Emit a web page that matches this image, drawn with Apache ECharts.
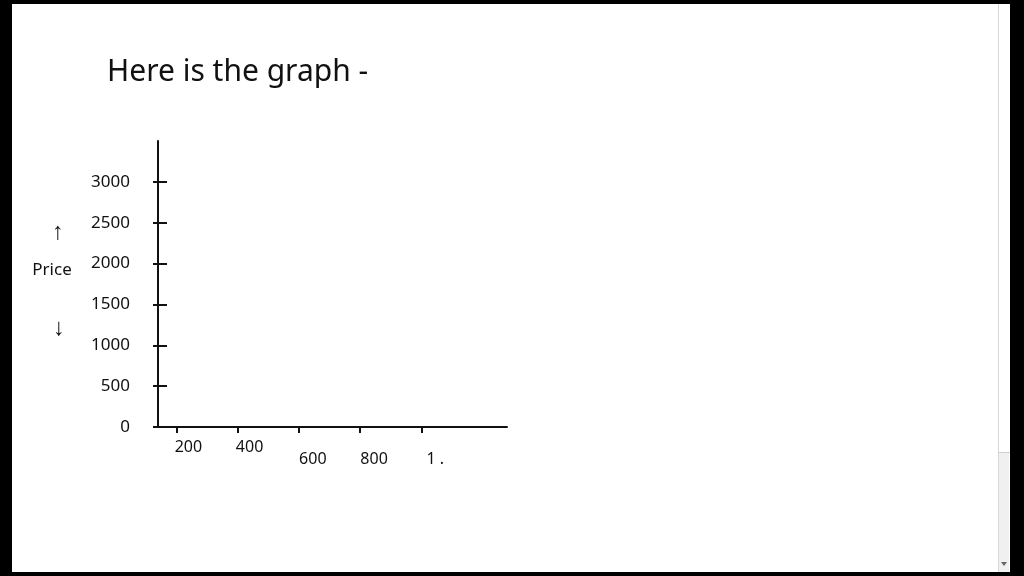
<!DOCTYPE html>
<html>
<head>
<meta charset="utf-8">
<style>
html,body{margin:0;padding:0;background:#000;}
#chart{width:1024px;height:576px;}
</style>
<script src="https://cdn.jsdelivr.net/npm/echarts@6/dist/echarts.min.js"></script>
</head>
<body>
<div id="chart"></div>
<script>
// ---- data ----
const titleText = 'Here is the graph -';
const yAxisTitle = 'Price';
const yTickValues = [0, 500, 1000, 1500, 2000, 2500, 3000];
const yTickLabels = ['0', '500', '1000', '1500', '2000', '2500', '3000'];
const xTickValues = [200, 400, 600, 800, 1000];
const xTickLabels = ['200', '400', '600', '800', '1 .'];
const seriesValues = [];

const ink = '#111';
const font = 'Noto Sans';

const chart = echarts.init(document.getElementById('chart'), null, {renderer: 'canvas'});

const xLabelMap = {};
xTickValues.forEach((v, i) => { xLabelMap[v] = {text: xTickLabels[i], idx: i}; });
const yLabelMap = {};
yTickValues.forEach((v, i) => { yLabelMap[v] = yTickLabels[i]; });

const baseX = {
  type: 'value', min: 140, max: 1280, gridIndex: 0,
  axisLine: {show: true, lineStyle: {color: ink, width: 2}},
  splitLine: {show: false}
};
const baseY = {
  type: 'value', min: 0, max: 3500, gridIndex: 0,
  axisLine: {show: true, lineStyle: {color: ink, width: 2}},
  splitLine: {show: false}
};

chart.setOption({
  backgroundColor: '#000',
  animation: false,
  title: {
    text: titleText, left: 102, top: 52,
    textStyle: {fontFamily: font, fontSize: 30, fontWeight: 'normal', color: ink}
  },
  graphic: [
    {type: 'rect', silent: true, z: -100, shape: {x: 12, y: 4, width: 998, height: 568}, style: {fill: '#fff'}},
    {type: 'rect', silent: true, z: -99, shape: {x: 998, y: 452, width: 11, height: 120}, style: {fill: '#f0f0f0'}},
    {type: 'line', silent: true, z: -98, shape: {x1: 998.5, y1: 4, x2: 998.5, y2: 572}, style: {stroke: '#d8d8d8', lineWidth: 1}},
    {type: 'line', silent: true, z: -98, shape: {x1: 998, y1: 452.5, x2: 1010, y2: 452.5}, style: {stroke: '#d0d0d0', lineWidth: 1}},
    {type: 'polygon', silent: true, z: -97, shape: {points: [[1001, 562], [1007, 562], [1004, 566]]}, style: {fill: '#666'}}
  ],
  grid: {left: 158, top: 141, right: 517, bottom: 149, containLabel: false},
  xAxis: [
    Object.assign({}, baseX, {
      axisTick: {show: true, inside: false, length: 5, customValues: xTickValues, lineStyle: {color: ink, width: 2}},
      axisLabel: {
        show: true, margin: 12, customValues: xTickValues,
        formatter: function (v) {
          const e = xLabelMap[v];
          if (!e) return '';
          return e.idx >= 2 ? '{lo|' + e.text + '}' : '{hi|' + e.text + '}';
        },
        rich: {
          hi: {fontFamily: font, fontSize: 16, color: ink, padding: [0, 0, 0, 24]},
          lo: {fontFamily: font, fontSize: 16, color: ink, padding: [12, 0, 0, 28]}
        }
      }
    }),
    Object.assign({}, baseX, {
      axisLine: {show: false},
      axisTick: {show: true, inside: true, length: 6, customValues: xTickValues, lineStyle: {color: ink, width: 2}},
      axisLabel: {show: false}
    })
  ],
  yAxis: [
    Object.assign({}, baseY, {
      name: '{a|↑}\n{p|' + yAxisTitle + '}\n{b|↓}',
      nameLocation: 'middle',
      nameRotate: 0,
      nameGap: 106,
      nameTextStyle: {
        align: 'center', padding: [12, 0, 0, 0],
        rich: {
          a: {fontFamily: font, fontSize: 24, color: ink, lineHeight: 40, padding: [0, 0, 0, 12]},
          p: {fontFamily: font, fontSize: 17, color: ink, lineHeight: 36},
          b: {fontFamily: font, fontSize: 24, color: ink, lineHeight: 80, padding: [0, 0, 0, 14]}
        }
      },
      axisTick: {show: true, inside: false, length: 5, customValues: yTickValues, lineStyle: {color: ink, width: 2}},
      axisLabel: {
        show: true, margin: 28, customValues: yTickValues,
        fontFamily: font, fontSize: 17, color: ink,
        formatter: function (v) { return yLabelMap[v] !== undefined ? yLabelMap[v] : ''; }
      }
    }),
    Object.assign({}, baseY, {
      position: 'left',
      axisLine: {show: false},
      axisTick: {show: true, inside: true, length: 9, customValues: yTickValues, lineStyle: {color: ink, width: 2}},
      axisLabel: {show: false}
    })
  ],
  series: [{type: 'line', xAxisIndex: 0, yAxisIndex: 0, data: seriesValues, silent: true}]
});
</script>
</body>
</html>
